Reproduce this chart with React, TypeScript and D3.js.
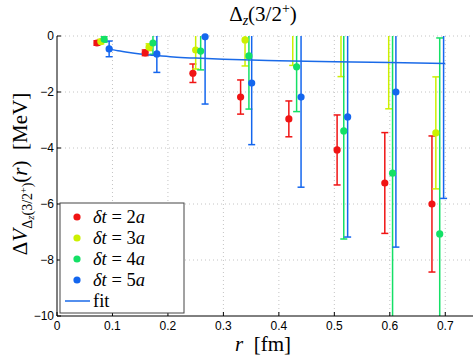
import React, { useEffect, useRef } from "react";
import * as d3 from "d3";

// values
const seriesLabels = ["2a", "3a", "4a", "5a"];
const seriesColors = ["#f01414", "#ccf000", "#14e066", "#1466ee"];

const rRed = [0.072, 0.159, 0.245, 0.331, 0.418, 0.505, 0.591, 0.676];
const vRed = [-0.25, -0.6, -1.33, -2.18, -2.96, -4.07, -5.25, -6.0];
const eRed = [0.08, 0.1, 0.33, 0.61, 0.64, 1.25, 1.8, 2.43];

const rYellow = [0.079, 0.166, 0.25, 0.339, 0.425, 0.512, 0.598, 0.683];
const vYellow = [-0.2, -0.4, -0.5, -0.14, 0.1, 0.4, 0.5, -3.46];
const eYellow = [0.08, 0.12, 0.68, 0.93, 1.15, 1.85, 3.1, 2.0];

const rGreen = [0.085, 0.173, 0.259, 0.346, 0.432, 0.517, 0.605, 0.69];
const vGreen = [-0.12, -0.25, -0.54, -0.71, -1.1, -3.39, -4.9, -7.07];
const eGreen = [0.1, 0.4, 0.67, 1.9, 1.6, 3.86, 5.6, 7.0];

const rBlue = [0.094, 0.18, 0.267, 0.351, 0.44, 0.524, 0.611, 0.697];
const vBlue = [-0.46, -0.64, -0.03, -1.68, -2.18, -2.89, -2.0, 0.3];
const eBlue = [0.28, 0.66, 2.4, 2.2, 3.22, 4.29, 5.54, 6.1];

const fitR = [0.09, 0.11, 0.13, 0.15, 0.18, 0.21, 0.25, 0.3, 0.35, 0.4, 0.5, 0.6, 0.7];
const fitV = [-0.45, -0.53, -0.59, -0.64, -0.7, -0.75, -0.79, -0.83, -0.86, -0.88, -0.92, -0.95, -0.98];

const xTicks = [0, 0.1, 0.2, 0.3, 0.4, 0.5, 0.6, 0.7];
const yTicks = [0, -2, -4, -6, -8, -10];

const App = () => {
  const ref = useRef(null);

  useEffect(() => {
    const svg = d3.select(ref.current);
    svg.selectAll("*").remove();

    const W = 474, H = 359;
    const left = 57, right = 473, top = 36, bottom = 316;
    const serif = "'Liberation Serif', 'DejaVu Serif', serif";
    const sans = "'Liberation Sans', Arial, sans-serif";

    svg.attr("width", W).attr("height", H);

    const x = d3.scaleLinear().domain([0, 0.75]).range([left, right]);
    const y = d3.scaleLinear().domain([-10, 0]).range([bottom, top]);

    svg.append("rect").attr("width", W).attr("height", H).attr("fill", "#fff");

    svg.append("defs").append("clipPath").attr("id", "plotclip")
      .append("rect")
      .attr("x", left).attr("y", top)
      .attr("width", right - left).attr("height", bottom - top);

    // dotted grid
    const grid = svg.append("g").attr("stroke", "#c4c4c4").attr("stroke-dasharray", "1,3");
    grid.selectAll("line.gx")
      .data(xTicks.filter(d => d > 0))
      .enter().append("line")
      .attr("x1", d => x(d)).attr("x2", d => x(d))
      .attr("y1", top).attr("y2", bottom);
    grid.selectAll("line.gy")
      .data(yTicks.filter(d => d > -10))
      .enter().append("line")
      .attr("x1", left).attr("x2", right)
      .attr("y1", d => y(d)).attr("y2", d => y(d));

    const series = [
      { r: rRed, v: vRed, e: eRed },
      { r: rYellow, v: vYellow, e: eYellow },
      { r: rGreen, v: vGreen, e: eGreen },
      { r: rBlue, v: vBlue, e: eBlue },
    ];

    const plot = svg.append("g").attr("clip-path", "url(#plotclip)");
    const cap = 3.5;

    series.forEach((s, i) => {
      const pts = s.r.map((r, j) => ({ r, v: s.v[j], e: s.e[j] }));
      const g = plot.append("g").attr("stroke", seriesColors[i]).attr("stroke-width", 1.5);
      g.selectAll("line.bar").data(pts).enter().append("line")
        .attr("x1", d => x(d.r)).attr("x2", d => x(d.r))
        .attr("y1", d => y(d.v + d.e)).attr("y2", d => y(d.v - d.e));
      g.selectAll("line.lo").data(pts).enter().append("line")
        .attr("x1", d => x(d.r) - cap).attr("x2", d => x(d.r) + cap)
        .attr("y1", d => y(d.v - d.e)).attr("y2", d => y(d.v - d.e));
      g.selectAll("line.hi").data(pts).enter().append("line")
        .attr("x1", d => x(d.r) - cap).attr("x2", d => x(d.r) + cap)
        .attr("y1", d => y(d.v + d.e)).attr("y2", d => y(d.v + d.e));
    });

    // markers are drawn whole when the point is inside the axes
    series.forEach((s, i) => {
      const pts = s.r.map((r, j) => ({ r, v: s.v[j] })).filter(d => d.v <= 0 && d.v >= -10);
      svg.append("g").selectAll("circle").data(pts).enter().append("circle")
        .attr("cx", d => x(d.r)).attr("cy", d => y(d.v))
        .attr("r", 3.6).attr("fill", seriesColors[i]);
    });

    const fitData = fitR.map((r, j) => ({ r, v: fitV[j] }));
    const line = d3.line<any>().x(d => x(d.r)).y(d => y(d.v)).curve(d3.curveMonotoneX);
    plot.append("path").datum(fitData)
      .attr("d", line)
      .attr("fill", "none").attr("stroke", "#1a6ae8").attr("stroke-width", 1.5);

    // axes
    const ax = svg.append("g").attr("stroke", "#000").attr("stroke-width", 1);
    ax.append("line").attr("x1", left).attr("x2", left).attr("y1", top).attr("y2", bottom);
    ax.append("line").attr("x1", left).attr("x2", right).attr("y1", bottom).attr("y2", bottom);
    ax.selectAll("line.tx").data(xTicks).enter().append("line")
      .attr("x1", d => x(d)).attr("x2", d => x(d))
      .attr("y1", bottom).attr("y2", bottom - 4);
    ax.selectAll("line.ty").data(yTicks).enter().append("line")
      .attr("x1", left).attr("x2", left + 4)
      .attr("y1", d => y(d)).attr("y2", d => y(d));

    svg.append("g").selectAll("text").data(xTicks).enter().append("text")
      .attr("x", d => x(d)).attr("y", bottom + 14)
      .attr("text-anchor", "middle")
      .attr("font-family", sans).attr("font-size", 12)
      .text(d => d3.format("")(d));

    svg.append("g").selectAll("text").data(yTicks).enter().append("text")
      .attr("x", left - 3).attr("y", d => y(d) + 4)
      .attr("text-anchor", "end")
      .attr("font-family", sans).attr("font-size", 12)
      .text(d => (d < 0 ? "\u2212" + Math.abs(d) : "" + d));

    // title
    const title = svg.append("text")
      .attr("x", 263).attr("y", 21)
      .attr("text-anchor", "middle")
      .attr("font-family", serif).attr("font-size", 21);
    title.append("tspan").text("\u0394");
    title.append("tspan").attr("font-style", "italic").attr("font-size", 14).attr("dy", 4).text("z");
    title.append("tspan").attr("dy", -4).text("(3/2");
    title.append("tspan").attr("font-size", 14).attr("dy", -8).text("+");
    title.append("tspan").attr("dy", 8).text(")");

    // x label
    const xl = svg.append("text")
      .attr("x", 263).attr("y", 351)
      .attr("text-anchor", "middle")
      .attr("font-family", serif).attr("font-size", 21);
    xl.append("tspan").attr("font-style", "italic").text("r");
    xl.append("tspan").text("\u2002[fm]");

    // y label
    const yl = svg.append("text")
      .attr("transform", "translate(27,174) rotate(-90)")
      .attr("text-anchor", "middle")
      .attr("font-family", serif).attr("font-size", 21);
    yl.append("tspan").text("\u0394");
    yl.append("tspan").attr("font-style", "italic").text("V");
    yl.append("tspan").attr("font-size", 14).attr("dy", 5).text("\u0394");
    yl.append("tspan").attr("font-size", 11).attr("font-style", "italic").attr("dy", 2).text("z");
    yl.append("tspan").attr("font-size", 14).attr("dy", -2).text("(3/2");
    yl.append("tspan").attr("font-size", 10).attr("dy", -5).text("+");
    yl.append("tspan").attr("font-size", 14).attr("dy", 5).text(")");
    yl.append("tspan").attr("dy", -5).text("(");
    yl.append("tspan").attr("font-style", "italic").text("r");
    yl.append("tspan").text(")\u2002[MeV]");

    // legend
    const lg = svg.append("g");
    lg.append("rect")
      .attr("x", 60).attr("y", 203).attr("width", 124).attr("height", 110)
      .attr("fill", "#fff").attr("stroke", "#444").attr("stroke-width", 1);
    const rows = lg.selectAll("g.row").data(seriesLabels).enter().append("g")
      .attr("transform", (d, i) => `translate(0, ${217 + i * 21})`);
    rows.append("circle").attr("cx", 77).attr("cy", 0).attr("r", 3.6)
      .attr("fill", (d, i) => seriesColors[i]);
    const lt = rows.append("text").attr("x", 93).attr("y", 6)
      .attr("font-family", serif).attr("font-size", 18.5);
    lt.append("tspan").attr("font-style", "italic").text("\u03b4t");
    lt.append("tspan").text(" = " );
    lt.append("tspan").text(d => d.slice(0, 1));
    lt.append("tspan").attr("font-style", "italic").text(d => d.slice(1));
    lg.append("line").attr("x1", 65).attr("x2", 90).attr("y1", 301).attr("y2", 301)
      .attr("stroke", "#1a6ae8").attr("stroke-width", 1.5);
    lg.append("text").attr("x", 93).attr("y", 307)
      .attr("font-family", serif).attr("font-size", 18.5).text("fit");
  }, []);

  return <svg ref={ref} style={{ position: "absolute", left: 0, top: 0 }}></svg>;
};

export default App;
